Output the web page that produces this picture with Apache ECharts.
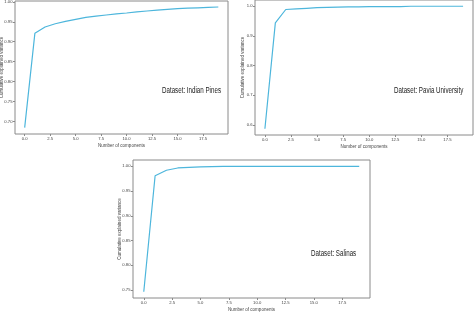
<!DOCTYPE html>
<html>
<head>
<meta charset="utf-8">
<script src="https://cdn.jsdelivr.net/npm/echarts@6/dist/echarts.min.js"></script>
<style>html,body{margin:0;padding:0;background:#fff;}#c{width:474px;height:313px;}</style>
</head>
<body>
<div id="c"></div>
<script>
// Number of components (0..19)
const components = [0,1,2,3,4,5,6,7,8,9,10,11,12,13,14,15,16,17,18,19];
const xTicks = [0, 2.5, 5, 7.5, 10, 12.5, 15, 17.5];

// Cumulative explained variance per dataset
const indianPines = [0.685, 0.921, 0.937, 0.945, 0.951, 0.956, 0.961, 0.964, 0.967, 0.970, 0.972, 0.975, 0.977, 0.979, 0.981, 0.983, 0.984, 0.985, 0.986, 0.987];
const paviaUniversity = [0.587, 0.944, 0.989, 0.991, 0.993, 0.995, 0.996, 0.997, 0.998, 0.998, 0.999, 0.999, 0.999, 0.999, 1.0, 1.0, 1.0, 1.0, 1.0, 1.0];
const salinas = [0.7466, 0.981, 0.992, 0.9966, 0.998, 0.999, 0.9995, 0.9997, 0.9998, 0.9999, 1.0, 1.0, 1.0, 1.0, 1.0, 1.0, 1.0, 1.0, 1.0, 1.0];

const yTicksIP = [0.70, 0.75, 0.80, 0.85, 0.90, 0.95, 1.00];
const yTicksPU = [0.6, 0.7, 0.8, 0.9, 1.0];
const yTicksSA = [0.75, 0.80, 0.85, 0.90, 0.95, 1.00];

const labels = ['Dataset: Indian Pines', 'Dataset: Pavia University', 'Dataset: Salinas'];
const xName = 'Number of components';
const yName = 'Cumulative explained variance';

const lineColor = '#4db6dc';
const axisColor = '#8a8a8a';
const txtColor = '#444';
const fs = 4.5;
const tfont = "'Liberation Sans', Arial, sans-serif";

function xAxis(grid){
  return {type:'value', gridIndex:grid, min:-0.95, max:19.95,
    name:xName, nameLocation:'middle', nameGap:9, nameMoveOverlap:false, nameTextStyle:{fontSize:fs, color:txtColor, fontFamily:tfont},
    axisLine:{show:false, onZero:false}, splitLine:{show:false},
    axisTick:{show:true, length:2, customValues:xTicks, lineStyle:{color:axisColor}},
    axisLabel:{customValues:xTicks, fontSize:4.2, fontFamily:tfont, color:txtColor, margin:3, formatter:v=>v.toFixed(1)}};
}
function yAxis(grid, min, max, ticks, dec, gap){
  return {type:'value', gridIndex:grid, min:min, max:max,
    name:yName, nameLocation:'middle', nameGap:gap, nameMoveOverlap:false, nameTextStyle:{fontSize:fs, color:txtColor, fontFamily:tfont},
    axisLine:{show:false, onZero:false}, splitLine:{show:false},
    axisTick:{show:true, length:2, customValues:ticks, lineStyle:{color:axisColor}},
    axisLabel:{customValues:ticks, fontSize:4.2, fontFamily:tfont, color:txtColor, margin:2.5, formatter:v=>v.toFixed(dec)}};
}
function series(i, data){
  return {type:'line', xAxisIndex:i, yAxisIndex:i, data:components.map((c,k)=>[c,data[k]]),
    symbol:'none', lineStyle:{color:lineColor, width:1.2}, animation:false};
}
const gridStyle = {show:true, borderColor:axisColor, borderWidth:1, backgroundColor:'#fff', containLabel:false, outerBoundsMode:'none'};
function label(i, x, y){
  return {type:'text', x:x, y:y, scaleX:0.73, scaleY:1,
    style:{text:labels[i], fontSize:8.5, fontFamily:tfont, fill:'#222', textVerticalAlign:'middle'}};
}

const chart = echarts.init(document.getElementById('c'), null, {renderer:'canvas'});
chart.setOption({
  animation:false,
  grid:[
    Object.assign({left:15, top:1, width:213, height:133}, gridStyle),
    Object.assign({left:255, top:0, width:218, height:135}, gridStyle),
    Object.assign({left:133, top:160, width:237, height:138}, gridStyle)
  ],
  xAxis:[xAxis(0), xAxis(1), xAxis(2)],
  yAxis:[yAxis(0,0.669,1.002,yTicksIP,2,10.5), yAxis(1,0.566,1.021,yTicksPU,1,9.5), yAxis(2,0.734,1.0127,yTicksSA,2,10.5)],
  series:[series(0,indianPines), series(1,paviaUniversity), series(2,salinas)],
  graphic:[label(0,162,91), label(1,394,91), label(2,311,254)]
});
</script>
</body>
</html>
